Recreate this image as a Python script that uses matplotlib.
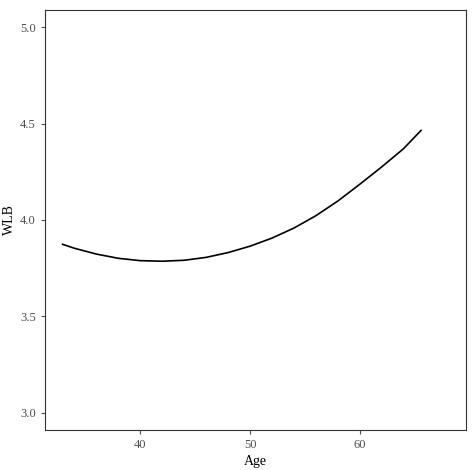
import matplotlib
matplotlib.use("Agg")
import matplotlib.pyplot as plt

age = [32.9, 34, 36, 38, 40, 42, 44, 46, 48, 50, 52, 54, 56, 58, 60, 62, 64, 65.6]
wlb = [3.874, 3.853, 3.823, 3.801, 3.789, 3.786, 3.791, 3.806, 3.831, 3.864, 3.906, 3.958, 4.022, 4.098, 4.185, 4.275, 4.37, 4.465]
xticks = [40, 50, 60]
yticks = [3.0, 3.5, 4.0, 4.5, 5.0]

plt.rcParams['font.family'] = ['Liberation Serif', 'DejaVu Serif']
fig = plt.figure(figsize=(4.74, 4.70), dpi=100)
ax = fig.add_axes([45/474, 40/470, 421/474, 420/470])
ax.plot(age, wlb, color='black', lw=1.2)
ax.set_xlim(31.3, 69.7)
ax.set_ylim(2.91, 5.09)
ax.set_xticks(xticks)
ax.set_yticks(yticks)
ax.set_yticklabels([f"{v:.1f}" for v in yticks])
ax.tick_params(colors='#4d4d4d', labelsize=9, length=3)
for s in ax.spines.values():
    s.set_color('#333333'); s.set_linewidth(0.8)
ax.set_xlabel('Age', fontsize=10, labelpad=3)
ax.set_ylabel('WLB', fontsize=10, labelpad=3)
fig.savefig('out.png', dpi=100)
